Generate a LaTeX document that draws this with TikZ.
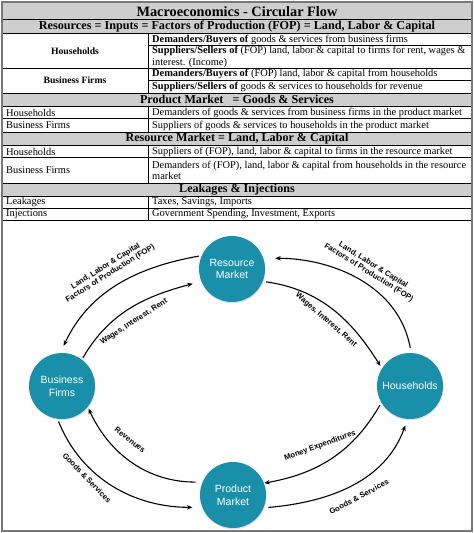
\documentclass[tikz,border=0pt]{standalone}
\usepackage{fontspec}
\setmainfont{Liberation Serif}
\setsansfont{Liberation Sans}
\usetikzlibrary{arrows.meta,shadows}
\definecolor{tealc}{RGB}{26,143,170}
\definecolor{hdrgray}{RGB}{206,206,206}
\definecolor{framegray}{RGB}{120,120,120}
\begin{document}
\begin{tikzpicture}[x=1pt,y=1pt,
  rulefull/.style={line width=0.9pt,black},
  rulethin/.style={line width=0.7pt,black},
  titlet/.style={font=\bfseries\fontsize{14.3}{16}\selectfont,inner sep=0},
  hdrtop/.style={font=\bfseries\fontsize{12.2}{13}\selectfont,inner sep=0},
  hdr/.style={font=\bfseries\fontsize{12.1}{13}\selectfont,inner sep=0},
  cell/.style={anchor=west,inner sep=0,align=left,font=\fontsize{10.4}{11.6}\selectfont},
  lcell/.style={inner sep=0,font=\bfseries\fontsize{9.7}{12}\selectfont},
  market/.style={circle,fill=tealc,minimum size=66pt,inner sep=0,outer sep=0,text=white,align=center,
    font=\sffamily\fontsize{10.5}{12.5}\selectfont,
    drop shadow={opacity=0.25,shadow xshift=0.6pt,shadow yshift=-1.2pt}},
  flow/.style={line width=1.1pt,-{Stealth[length=5.5pt,width=4.5pt]}},
  lab/.style={inner sep=0,align=center,font=\sffamily\bfseries\fontsize{7.7}{8.6}\selectfont}
]
\useasboundingbox (0,0) rectangle (474,533);
\fill[white] (0,0) rectangle (474,533);
% header fills
\fill[hdrgray] (2.5,530.5) rectangle (471.5,500);
\fill[hdrgray] (2.5,440) rectangle (471.5,427);
\fill[hdrgray] (2.5,401) rectangle (471.5,388);
\fill[hdrgray] (2.5,350) rectangle (471.5,337);
% full rules
\foreach \yy in {513.5,500,465,440,427,414.5,401,388,375.5,350,337,325,313}
  \draw[rulefull] (2.5,\yy) -- (471.5,\yy);
% partial rules
\draw[rulethin] (148,487.5) -- (471.5,487.5);
\draw[rulethin] (148,452.5) -- (471.5,452.5);
% vertical dividers
\draw[rulefull] (148,500) -- (148,440);
\draw[rulefull] (148,427) -- (148,401);
\draw[rulefull] (148,388) -- (148,350);
\draw[rulefull] (148,337) -- (148,313);
% frame
\draw[framegray,line width=1.6pt] (2,2) rectangle (472,531);

% table text
\node[titlet] (t0) at (237,521.5) {Macroeconomics - Circular Flow};
\node[hdrtop] (t1) at (237,506.5) {Resources = Inputs = Factors of Production (FOP) = Land, Labor \& Capital};
\node[lcell] (l1) at (75,482) {Households};
\node[lcell] (l2) at (75,452.5) {Business Firms};
\node[cell] (c1) at (152,493.5) {\textbf{Demanders/Buyers of} goods \& services from business firms};
\node[cell] (c2) at (152,476) {\textbf{Suppliers/Sellers of} (FOP) land, labor \& capital to firms for rent, wages \&\\interest. (Income)};
\node[cell] (c3) at (152,459) {\textbf{Demanders/Buyers of} (FOP) land, labor \& capital from households};
\node[cell] (c4) at (152,446) {\textbf{Suppliers/Sellers of} goods \& services to households for revenue};
\node[hdr] (h2) at (237,433.5) {Product Market \ \ = Goods \& Services};
\node[cell] (l3) at (6,420.5) {Households};
\node[cell] (c5) at (152,420.5) {Demanders of goods \& services from business firms in the product market};
\node[cell] (l4) at (6,407.5) {Business Firms};
\node[cell] (c6) at (152,407.5) {Suppliers of goods \& services to households in the product market};
\node[hdr] (h3) at (237,394.5) {Resource Market = Land, Labor \& Capital};
\node[cell] (l5) at (6,381.5) {Households};
\node[cell] (c7) at (152,381.5) {Suppliers of (FOP), land, labor \& capital to firms in the resource market};
\node[cell] (l6) at (6,362.5) {Business Firms};
\node[cell] (c8) at (152,362.5) {Demanders of (FOP), land, labor \& capital from households in the resource\\market};
\node[hdr] (h4) at (237,343.5) {Leakages \& Injections};
\node[cell] (l7) at (6,331) {Leakages};
\node[cell] (c9) at (152,331) {Taxes, Savings, Imports};
\node[cell] (l8) at (6,319) {Injections};
\node[cell] (c10) at (152,319) {Government Spending, Investment, Exports};

% circles
\node[market] (rm) at (232,264) {Resource\\Market};
\node[market] (bf) at (62,147) {Business\\Firms};
\node[market] (hh) at (410,147) {Households};
\node[market] (pm) at (233,38) {Product\\Market};

% flows
\draw[flow,shorten <=3pt,shorten >=8pt] (rm.156) to[out=190,in=65] (bf.93);
\draw[flow,shorten <=2pt,shorten >=9pt] (bf.53) to[out=60,in=195] (rm.202);
\draw[flow,shorten <=5pt,shorten >=12pt] (hh.88) to[out=100,in=0] (rm.19);
\draw[flow,shorten <=3.5pt,shorten >=3pt] (rm.-22) to[out=-8,in=122] (hh.148);
\draw[flow,shorten <=7pt,shorten >=2pt] (pm.157) to[out=180,in=-65] (bf.-39);
\draw[flow,shorten <=3pt,shorten >=10pt] (bf.262) to[out=-68,in=180] (pm.202);
\draw[flow,shorten <=3pt,shorten >=0.5pt] (hh.210) to[out=240,in=10] (pm.21);
\draw[flow,shorten <=5pt,shorten >=7pt] (pm.-23) to[out=5,in=250] (hh.266);

% labels
\node[lab,rotate=32] (f1) at (108,263) {Land, Labor \& Capital\\Factors of Production (FOP)};
\node[lab,rotate=33] (w1) at (134,211) {Wages, Interest, Rent};
\node[lab,rotate=-32] (f2) at (371,264) {Land, Labor \& Capital\\Factors of Production (FOP)};
\node[lab,rotate=-41] (w2) at (326,213) {Wages, Interest, Rent};
\node[lab,rotate=-38] (rv) at (130,93) {Revenues};
\node[lab,rotate=-46] (g1) at (87,55) {Goods \& Services};
\node[lab,rotate=20] (me) at (320,87) {Money Expenditures};
\node[lab,rotate=28] (g2) at (359,36) {Goods \& Services};
\end{tikzpicture}
\end{document}
